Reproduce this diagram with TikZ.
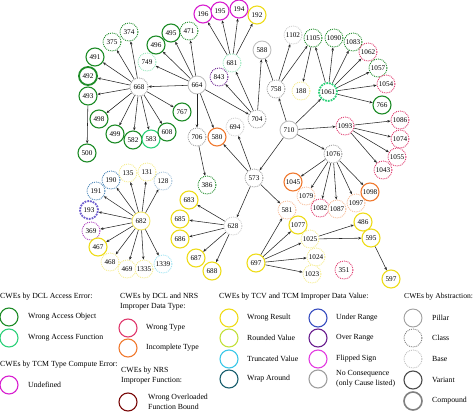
\documentclass[tikz,border=0pt]{standalone}
\usepackage{fontspec}
\setmainfont{Liberation Serif}
\usetikzlibrary{arrows.meta}
\definecolor{dgreen}{HTML}{1E8C28}
\definecolor{lgreen}{HTML}{2ED17A}
\definecolor{undef}{HTML}{D81FD0}
\definecolor{wtype}{HTML}{E03A6E}
\definecolor{incomp}{HTML}{F07A30}
\definecolor{wob}{HTML}{7A0A0A}
\definecolor{wres}{HTML}{EEDC1A}
\definecolor{round}{HTML}{C4E03C}
\definecolor{trunc}{HTML}{3CC8E8}
\definecolor{wrap}{HTML}{1A5F6E}
\definecolor{under}{HTML}{3A4FC0}
\definecolor{over}{HTML}{6A1F8F}
\definecolor{flip}{HTML}{E23DE0}
\definecolor{nocon}{HTML}{A0A0A0}
\definecolor{steel}{HTML}{4A86B8}
\definecolor{violet}{HTML}{7060D0}
\definecolor{pviolet}{HTML}{B040C0}
\tikzset{
  cw/.style={circle, minimum size=18pt, inner sep=0pt, fill=white, font=\fontsize{7.2}{8}\selectfont},
  pil/.style={cw, draw=#1!65, line width=0.9pt},
  cls/.style={cw, draw=#1, line width=0.9pt, densely dotted},
  bas/.style={cw, draw=#1!50, line width=0.9pt, densely dotted},
  var/.style={cw, draw=#1, line width=1.1pt},
  cmp/.style={cw, draw=#1, line width=1.8pt},
  cmpd/.style={cw, draw=#1, line width=1.8pt, densely dotted},
  arr/.style={-{Stealth[length=3.2pt,width=2.6pt]}, line width=0.55pt, draw=black!85},
  lg/.style={anchor=west, inner sep=0pt, font=\fontsize{7.8}{10}\selectfont, align=left},
  lc/.style={circle, minimum size=18pt, inner sep=0pt, draw=#1, line width=1.1pt},
}
\begin{document}
\begin{tikzpicture}[x=1pt,y=-1pt]
\useasboundingbox (0,0) rectangle (474,412);
% ---- upper-left cluster
\node[cls=dgreen] (n374) at (129,32) {374};
\node[cls=dgreen] (n375) at (112,42) {375};
\node[var=dgreen] (n491) at (95,57) {491};
\node[cmp=dgreen] (n492) at (88,76) {492};
\node[var=dgreen] (n493) at (88,96) {493};
\node[var=dgreen] (n498) at (99,119) {498};
\node[var=dgreen] (n499) at (115,134) {499};
\node[var=dgreen] (n582) at (133,140) {582};
\node[var=lgreen] (n583) at (151,139) {583};
\node[var=dgreen] (n608) at (167,132) {608};
\node[var=dgreen] (n767) at (182,112) {767};
\node[var=dgreen] (n500) at (87,153) {500};
\node[cls=nocon] (n668) at (139,87) {668};
\node[pil=nocon] (n664) at (197,85) {664};
\node[bas=lgreen] (n749) at (147,62) {749};
\node[var=dgreen] (n496) at (156,45) {496};
\node[var=dgreen] (n495) at (171,33) {495};
\node[cls=dgreen] (n471) at (189,31) {471};
\node[cls=over] (n843) at (219,77) {843};
\node[bas=lgreen] (n681) at (232,63) {681};
\node[var=undef] (n196) at (203,14) {196};
\node[var=undef] (n195) at (220,11) {195};
\node[var=undef] (n194) at (239,9) {194};
\node[var=wres] (n192) at (257,15) {192};
\node[cls=nocon] (n706) at (197,137) {706};
\node[var=incomp] (n580) at (217,137) {580};
\node[bas=nocon] (n694) at (235,127) {694};
% ---- upper-right cluster
\node[pil=nocon] (n588) at (262,50) {588};
\node[bas=nocon] (n1102) at (293,35) {1102};
\node[cls=dgreen] (n1105) at (313,38) {1105};
\node[cls=dgreen] (n1090) at (334,38) {1090};
\node[cls=dgreen] (n1083) at (353,42) {1083};
\node[cls=wtype] (n1062) at (368,52) {1062};
\node[cls=dgreen] (n1057) at (378,68) {1057};
\node[cls=wtype] (n1054) at (386,84) {1054};
\node[var=dgreen] (n766) at (382,105) {766};
\node[cmpd=lgreen] (n1061) at (328,92) {1061};
\node[cls=nocon] (n758) at (276,89) {758};
\node[bas=wres] (n188) at (301,91) {188};
\node[cls=nocon] (n704) at (257,119) {704};
\node[pil=nocon] (n710) at (289,130) {710};
\node[cls=wtype] (n1093) at (345,126) {1093};
\node[cls=wtype] (n1086) at (400,120) {1086};
\node[cls=wtype] (n1074) at (400,139) {1074};
\node[cls=wtype] (n1055) at (397,157) {1055};
\node[cls=wtype] (n1043) at (383,170) {1043};
% ---- lower-right cluster
\node[cls=nocon] (n1076) at (333,154) {1076};
\node[cls=nocon] (n573) at (254,178) {573};
\node[var=incomp] (n1045) at (293,182) {1045};
\node[bas=incomp] (n1079) at (306,196) {1079};
\node[cls=wtype] (n1082) at (320,208) {1082};
\node[bas=incomp] (n1087) at (337,209) {1087};
\node[bas=incomp] (n1097) at (356,203) {1097};
\node[var=incomp] (n1098) at (370,192) {1098};
\node[bas=incomp] (n581) at (287,210) {581};
\node[var=wres] (n1077) at (298,225) {1077};
\node[var=wres] (n486) at (363,222) {486};
\node[bas=wres] (n1025) at (310,239) {1025};
\node[var=wres] (n595) at (371,238) {595};
\node[bas=wres] (n1024) at (316,257) {1024};
\node[var=wres] (n697) at (256,263) {697};
\node[bas=wres] (n1023) at (312,274) {1023};
\node[cls=wtype] (n351) at (344,270) {351};
\node[var=wres] (n597) at (391,279) {597};
% ---- lower-left cluster
\node[bas=wres] (n135) at (128,173) {135};
\node[bas=wres] (n131) at (147,172) {131};
\node[bas=steel] (n128) at (163,181) {128};
\node[cls=steel] (n190) at (111,180) {190};
\node[cls=steel] (n191) at (96,191) {191};
\node[cmpd=violet] (n193) at (89,210) {193};
\node[cls=pviolet] (n369) at (91,231) {369};
\node[var=wres] (n467) at (98,247) {467};
\node[bas=wres] (n468) at (110,262) {468};
\node[bas=wres] (n469) at (127,269) {469};
\node[bas=wres] (n1335) at (144,269) {1335};
\node[bas=trunc] (n1339) at (163,264) {1339};
\node[pil=wres] (n682) at (141,221) {682};
\node[cls=dgreen] (n386) at (207,185) {386};
\node[var=wres] (n683) at (189,200) {683};
\node[var=wres] (n685) at (180,219) {685};
\node[var=wres] (n686) at (180,239) {686};
\node[var=wres] (n687) at (196,258) {687};
\node[var=wres] (n688) at (212,271) {688};
\node[bas=nocon] (n628) at (233,226) {628};
% ---- edges
\foreach \t in {374,375,491,492,493,498,499,582,583,608,767} \draw[arr] (n668) -- (n\t);
\draw[arr] (n493) -- (n500);
\foreach \t in {668,749,496,495,471,706,580,704} \draw[arr] (n664) -- (n\t);
\foreach \t in {843,681,588} \draw[arr] (n704) -- (n\t);
\foreach \t in {196,195,194,192} \draw[arr] (n681) -- (n\t);
\draw[arr] (n706) -- (n386);
\foreach \t in {694,580,628,581} \draw[arr] (n573) -- (n\t);
\foreach \t in {573,758,1061,1093,1076} \draw[arr] (n710) -- (n\t);
\foreach \t in {588,1102,1105} \draw[arr] (n758) -- (n\t);
\draw[arr] (n1105) -- (n188);
\foreach \t in {1105,1090,1083,1062,1057,1054,766} \draw[arr] (n1061) -- (n\t);
\foreach \t in {1086,1074,1055,1043} \draw[arr] (n1093) -- (n\t);
\foreach \t in {1045,1079,1082,1087,1097,1098} \draw[arr] (n1076) -- (n\t);
\foreach \t in {683,685,686,687,688} \draw[arr] (n628) -- (n\t);
\foreach \t in {135,131,128,190,191,193,369,467,468,469,1335,1339} \draw[arr] (n682) -- (n\t);
\foreach \t in {581,1077,1025,1024,1023} \draw[arr] (n697) -- (n\t);
\foreach \t in {486,595} \draw[arr] (n1025) -- (n\t);
\draw[arr] (n595) -- (n597);
% ---- legend
\node[lg] (t1) at (0,297) {CWEs by DCL Access Error:};
\node[lc=dgreen] (l1) at (9,317) {};
\node[lg] (l1t) at (28,317) {Wrong Access Object};
\node[lc=lgreen] (l2) at (9,338) {};
\node[lg] (l2t) at (28,338) {Wrong Access Function};
\node[lg] (t2) at (0,365) {CWEs by TCM Type Compute Error:};
\node[lc=undef] (l3) at (9,385) {};
\node[lg] (l3t) at (28,385) {Undefined};
\node[lg] (t3) at (120,302) {CWEs by DCL and NRS\\Improper Data Type:};
\node[lc=wtype] (l4) at (128,328) {};
\node[lg] (l4t) at (146,328) {Wrong Type};
\node[lc=incomp] (l5) at (128,348) {};
\node[lg] (l5t) at (146,348) {Incomplete Type};
\node[lg] (t4) at (121,376) {CWEs by NRS\\Improper Function:};
\node[lc=wob] (l6) at (128,402) {};
\node[lg] (l6t) at (148,402) {Wrong Overloaded\\Function Bound};
\node[lg] (t5) at (219,297) {CWEs by TCV and TCM Improper Data Value:};
\node[lc=wres] (l7) at (229,318) {};
\node[lg] (l7t) at (247,318) {Wrong Result};
\node[lc=round] (l8) at (229,338) {};
\node[lg] (l8t) at (247,338) {Rounded Value};
\node[lc=trunc] (l9) at (229,359) {};
\node[lg] (l9t) at (247,359) {Truncated Value};
\node[lc=wrap] (l10) at (229,379) {};
\node[lg] (l10t) at (247,379) {Wrap Around};
\node[lc=under] (l11) at (318,318) {};
\node[lg] (l11t) at (336,318) {Under Range};
\node[lc=over] (l12) at (318,338) {};
\node[lg] (l12t) at (336,338) {Over Range};
\node[lc=flip] (l13) at (318,359) {};
\node[lg] (l13t) at (336,359) {Flipped Sign};
\node[lc=nocon] (l14) at (318,379) {};
\node[lg] (l14t) at (336,379) {No Consequence\\(only Cause listed)};
\node[lg, font=\fontsize{7.6}{10}\selectfont] (t6) at (404,297) {CWEs by Abstraction:};
\node[circle, minimum size=18pt, inner sep=0pt, draw=gray!75, line width=0.9pt] (a1) at (413,318) {};
\node[lg] (a1t) at (432,318) {Pillar};
\node[circle, minimum size=18pt, inner sep=0pt, draw=gray, line width=0.9pt, densely dotted] (a2) at (413,338) {};
\node[lg] (a2t) at (432,338) {Class};
\node[circle, minimum size=18pt, inner sep=0pt, draw=gray!50, line width=0.9pt, densely dotted] (a3) at (413,359) {};
\node[lg] (a3t) at (432,359) {Base};
\node[circle, minimum size=18pt, inner sep=0pt, draw=black!70, line width=1.1pt] (a4) at (413,380) {};
\node[lg] (a4t) at (432,380) {Variant};
\node[circle, minimum size=18pt, inner sep=0pt, draw=gray, line width=1.6pt] (a5) at (413,401) {};
\node[lg] (a5t) at (432,401) {Compound};
\end{tikzpicture}
\end{document}
